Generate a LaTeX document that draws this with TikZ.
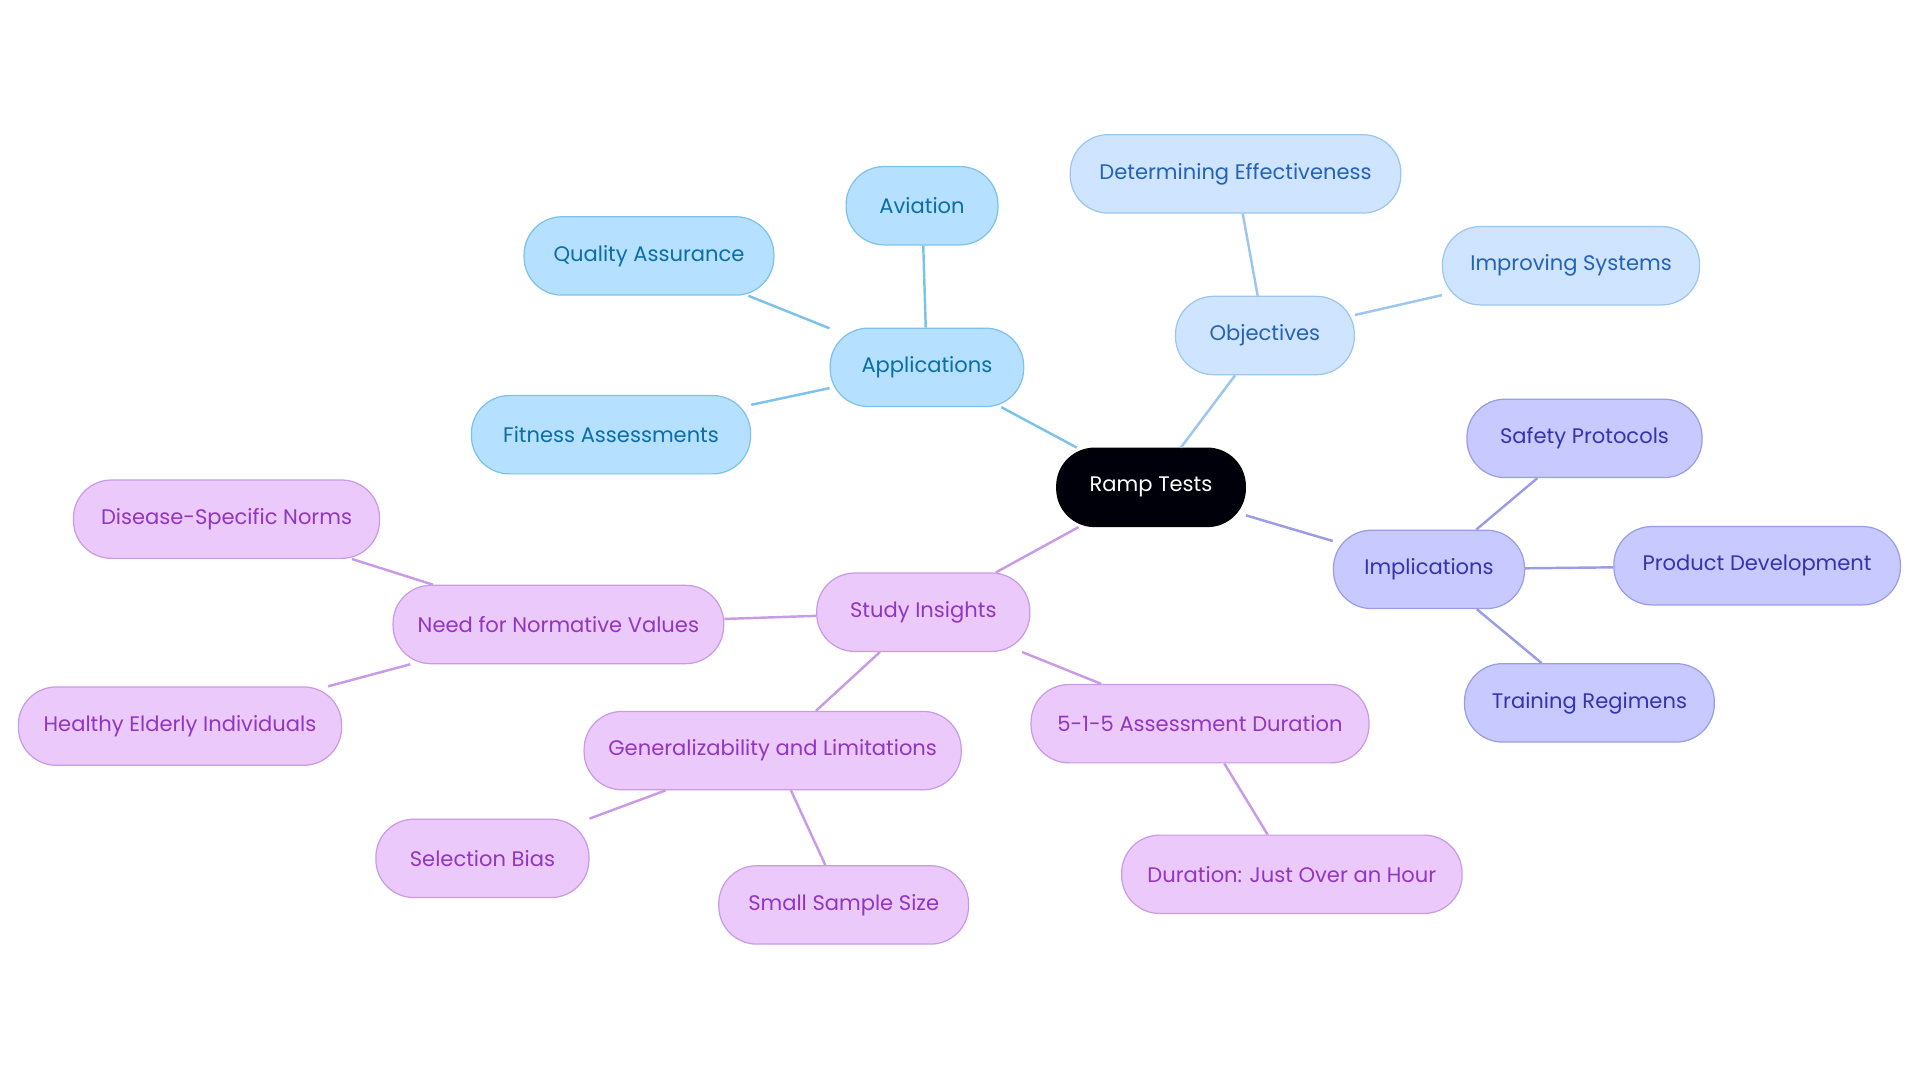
\documentclass[tikz,border=0pt]{standalone}
\usepackage{fontspec}
\setmainfont{Poppins}
\begin{document}
\begin{tikzpicture}[x=0.5pt,y=-0.5pt,
 base/.style={rounded corners=15.5pt,minimum height=32pt,inner sep=0pt,line width=0.5pt,font=\fontsize{8.6}{10}\selectfont},
 app/.style={base,fill=appf,draw=appd,text=appt},
 obj/.style={base,fill=objf,draw=objd,text=objt},
 imp/.style={base,fill=impf,draw=impd,text=impt},
 stu/.style={base,fill=stuf,draw=stud,text=stut},
 la/.style={draw=appd,line width=1pt},
 lo/.style={draw=objd,line width=1pt},
 li/.style={draw=impd,line width=1pt},
 ls/.style={draw=stud,line width=1pt}]
\definecolor{appf}{HTML}{B5E0FF}\definecolor{appd}{HTML}{7DC2EB}\definecolor{appt}{HTML}{0B6EA8}
\definecolor{objf}{HTML}{CFE4FF}\definecolor{objd}{HTML}{9CC6EE}\definecolor{objt}{HTML}{2462B5}
\definecolor{impf}{HTML}{C7C9FF}\definecolor{impd}{HTML}{9A9DE6}\definecolor{impt}{HTML}{3434AE}
\definecolor{stuf}{HTML}{ECC9FB}\definecolor{stud}{HTML}{C99BE6}\definecolor{stut}{HTML}{9036C0}
\useasboundingbox[fill=white] (0,0) rectangle (1568,884);
\node[base,fill=black!90!blue!40!black,draw=black,text=white,minimum width=77pt] (rt) at (940,398) {Ramp Tests};
\node[app,minimum width=79pt] (ap) at (757,300) {Applications};
\node[app,minimum width=62pt] (av) at (753,168) {Aviation};
\node[app,minimum width=102pt] (qa) at (530,209) {Quality Assurance};
\node[app,minimum width=114pt] (fa) at (499,355) {Fitness Assessments};
\node[obj,minimum width=73pt] (ob) at (1033,274) {Objectives};
\node[obj,minimum width=135pt] (de) at (1009,142) {Determining Effectiveness};
\node[obj,minimum width=105pt] (is) at (1283,217) {Improving Systems};
\node[imp,minimum width=78pt] (im) at (1167,465) {Implications};
\node[imp,minimum width=96pt] (sp) at (1294,358) {Safety Protocols};
\node[imp,minimum width=117pt] (pd) at (1435,462) {Product Development};
\node[imp,minimum width=102pt] (tr) at (1298,574) {Training Regimens};
\node[stu,minimum width=87pt] (si) at (754,500) {Study Insights};
\node[stu,minimum width=135pt] (nn) at (456,510) {Need for Normative Values};
\node[stu,minimum width=125pt] (ds) at (185,424) {Disease-Specific Norms};
\node[stu,minimum width=132pt] (he) at (147,593) {Healthy Elderly Individuals};
\node[stu,minimum width=154pt] (gl) at (631,613) {Generalizability and Limitations};
\node[stu,minimum width=87pt] (sb) at (394,701) {Selection Bias};
\node[stu,minimum width=102pt] (ss) at (689,739) {Small Sample Size};
\node[stu,minimum width=138pt] (ad) at (980,591) {5-1-5 Assessment Duration};
\node[stu,minimum width=139pt] (du) at (1055,714) {Duration: Just Over an Hour};
\begin{scope}[on background layer/.try]
\end{scope}
\draw[la] (rt) -- (ap); \draw[la] (ap) -- (av); \draw[la] (ap) -- (qa); \draw[la] (ap) -- (fa);
\draw[lo] (rt) -- (ob); \draw[lo] (ob) -- (de); \draw[lo] (ob) -- (is);
\draw[li] (rt) -- (im); \draw[li] (im) -- (sp); \draw[li] (im) -- (pd); \draw[li] (im) -- (tr);
\draw[ls] (rt) -- (si); \draw[ls] (si) -- (nn); \draw[ls] (nn) -- (ds); \draw[ls] (nn) -- (he);
\draw[ls] (si) -- (gl); \draw[ls] (gl) -- (sb); \draw[ls] (gl) -- (ss);
\draw[ls] (si) -- (ad); \draw[ls] (ad) -- (du);
\end{tikzpicture}
\end{document}
